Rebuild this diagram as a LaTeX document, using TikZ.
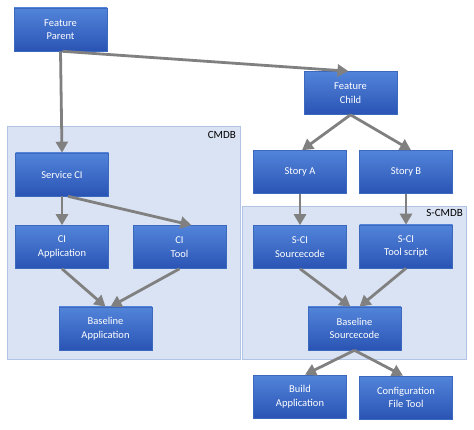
\documentclass[tikz,border=0pt]{standalone}
\usepackage{fontspec}
\setmainfont{Carlito}
\usetikzlibrary{arrows.meta,positioning}
\definecolor{boxtop}{RGB}{82,132,218}
\definecolor{boxbot}{RGB}{42,84,180}
\definecolor{boxedge}{RGB}{60,105,190}
\definecolor{areafill}{RGB}{218,227,243}
\definecolor{areaedge}{RGB}{178,196,228}
\definecolor{arrgray}{RGB}{128,128,128}
\tikzset{
  item/.style={draw=boxedge, line width=0.6pt, top color=boxtop, bottom color=boxbot,
    text=white, align=center, font=\fontsize{10.5}{13.5}\selectfont,
    minimum width=93pt, minimum height=43pt, inner sep=0pt},
  area/.style={draw=areaedge, fill=areafill, line width=0.8pt, inner sep=0pt},
  tag/.style={font=\fontsize{11}{13}\selectfont, anchor=north east, inner sep=1pt},
  arr/.style={-{Triangle[length=11pt,width=12pt]}, draw=arrgray, line width=2.8pt}}
\begin{document}
\begin{tikzpicture}[x=1pt, y=-1pt]
  \useasboundingbox (0,0) rectangle (474,430);
  % the two databases
  \node[area, minimum width=233pt, minimum height=233pt] (cmdb) at (123.5,242.5) {};
  \node[tag] (cmdbtag) at (237,130) {CMDB};
  \node[area, minimum width=224pt, minimum height=153pt] (scmdb) at (354,282.5) {};
  \node[tag] (scmdbtag) at (464,208) {S-CMDB};
  % left side
  \node[item] (parent) at (60.5,29.5) {Feature\\Parent};
  \node[item] (serv) at (62,174.5) {Service CI};
  \node[item] (ciapp) at (62,247) {CI\\Application};
  \node[item] (citool) at (179.5,247) {CI\\Tool};
  \node[item] (baseapp) at (105.5,328.5) {Baseline\\Application};
  % right side
  \node[item] (child) at (350.5,93) {Feature\\Child};
  \node[item] (storya) at (300,172) {Story A};
  \node[item] (storyb) at (406,172) {Story B};
  \node[item] (scisrc) at (300,247) {S-CI\\Sourcecode};
  \node[item] (scitool) at (406,246.5) {S-CI\\Tool script};
  \node[item] (basesrc) at (354.5,328.5) {Baseline\\Sourcecode};
  \node[item] (build) at (300,396.5) {Build\\Application};
  \node[item] (conf) at (406,397.5) {Configuration\\File Tool};
  % connectors
  \draw[arr] (parent.south) -- (serv.north);
  \draw[arr] ([xshift=2pt]parent.south) -- ([xshift=-2pt]child.north);
  \draw[arr] (child.south) -- ([xshift=2pt]storya.north);
  \draw[arr] (child.south) -- ([xshift=5pt]storyb.north);
  \draw[arr] (serv.south) -- (ciapp.north);
  \draw[arr] ([xshift=6pt]serv.south) -- ([xshift=12pt]citool.north);
  \draw[arr] (ciapp.south) -- (baseapp.north);
  \draw[arr] (citool.south) -- ([xshift=5pt]baseapp.north);
  \draw[arr] (storya.south) -- (scisrc.north);
  \draw[arr] (storyb.south) -- (scitool.north);
  \draw[arr] (scisrc.south) -- ([xshift=-4pt]basesrc.north);
  \draw[arr] (scitool.south) -- ([xshift=5pt]basesrc.north);
  \draw[arr] (basesrc.south) -- ([xshift=5pt]build.north);
  \draw[arr] (basesrc.south) -- ([xshift=-3pt]conf.north);
\end{tikzpicture}
\end{document}
